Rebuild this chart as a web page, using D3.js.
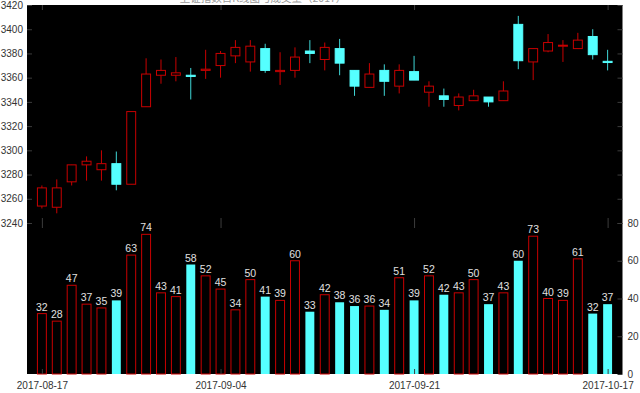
<!DOCTYPE html>
<html><head><meta charset="utf-8">
<script src="https://cdn.jsdelivr.net/npm/d3@7"></script>
<style>
html,body{margin:0;padding:0;background:#fff;}
svg{display:block;font-family:"Liberation Sans",Arial,Helvetica,sans-serif;}
</style></head>
<body><svg id="c" width="640" height="393"></svg>
<script>
const dates = ["2017-08-17","2017-08-18","2017-08-21","2017-08-22","2017-08-23","2017-08-24","2017-08-25","2017-08-28","2017-08-29","2017-08-30","2017-08-31","2017-09-01","2017-09-04","2017-09-05","2017-09-06","2017-09-07","2017-09-08","2017-09-11","2017-09-12","2017-09-13","2017-09-14","2017-09-15","2017-09-18","2017-09-19","2017-09-20","2017-09-21","2017-09-22","2017-09-25","2017-09-26","2017-09-27","2017-09-28","2017-09-29","2017-10-09","2017-10-10","2017-10-11","2017-10-12","2017-10-13","2017-10-16","2017-10-17"];
const openP  = [3254,3253,3274,3288,3284,3289,3272,3336,3362,3362,3362,3366,3370,3378,3373,3384,3365,3366,3382,3375,3384,3366,3352,3366,3353,3365,3348,3345,3337,3341,3344,3341,3404,3373,3382,3386,3384,3394,3373.5];
const highP  = [3271,3276,3288,3295,3300,3299,3332,3376,3375,3377,3368,3383,3382,3391,3391,3388,3381,3385,3391,3389,3392,3366,3372,3371,3371,3378,3357,3351,3347,3350,3344,3357,3411,3384,3396,3391,3397,3400,3383];
const lowP   = [3252,3248,3271,3275,3275,3267,3272,3336,3355,3357,3342,3359,3360,3372,3365,3364,3354,3360,3372,3366,3362,3345,3352,3345,3347,3358,3336,3336,3333,3341,3336,3341,3367,3358,3381,3373,3384,3375,3366];
const closeP = [3269,3269,3288,3291,3289,3272,3332,3363,3366,3364,3361,3367,3380,3385,3386,3366,3366,3377,3380,3385,3372,3353,3363,3357,3366,3358,3353,3342,3344,3345,3340,3349,3374,3384,3389,3386.8,3391,3379,3372.5];
const volume = [32,28,47,37,35,39,63,74,43,41,58,52,45,34,50,41,39,60,33,42,38,36,36,34,51,39,52,42,43,50,37,43,60,73,40,39,61,32,37];
const priceTicks = [3240,3260,3280,3300,3320,3340,3360,3380,3400,3420];
const volTicks = [0,20,40,60,80];
const dateTicks = ["2017-08-17","2017-09-04","2017-09-21","2017-10-17"];
const title = "上证指数日K线图与成交量（2017）";

const L = 27, R = 622.5, T = 5, M = 223, B = 374;
const upC = "#c80000", dnC = "#55ffff", dnW = "#3fd6d6", tickC = "#3c3c3c", txtC = "#333";

const svg = d3.select("#c");
const x = d3.scaleLinear().domain([0, dates.length + 1]).range([L, R]);
const yP = d3.scaleLinear().domain([3240, 3420]).range([M, T]);
const yV = d3.scaleLinear().domain([0, 80]).range([B, M]);
const step = x(1) - x(0);
const bw = step * 0.6;

// title (mostly cut off at top, as in the reference)
svg.append("text").attr("x", 263).attr("y", 1.5).attr("text-anchor", "middle")
  .attr("font-size", 10.5).attr("fill", "#9a9a9a")
  .attr("font-family", "'Noto Sans CJK SC',sans-serif").text(title);

svg.append("rect").attr("x", L).attr("y", T).attr("width", R - L).attr("height", B - T).attr("fill", "#000");

const data = dates.map((d, i) => ({d, i: i + 1, o: openP[i], h: highP[i], l: lowP[i], c: closeP[i], v: volume[i], up: closeP[i] >= openP[i]}));

// candles
const cg = svg.append("g");
cg.selectAll("line.w").data(data).join("line")
  .attr("x1", d => x(d.i)).attr("x2", d => x(d.i))
  .attr("y1", d => yP(d.h)).attr("y2", d => yP(d.l))
  .attr("stroke", d => d.up ? upC : dnW).attr("stroke-width", 1);
cg.selectAll("rect.b").data(data).join("rect")
  .attr("x", d => x(d.i) - bw / 2).attr("width", bw)
  .attr("y", d => yP(Math.max(d.o, d.c)))
  .attr("height", d => Math.max(1, Math.abs(yP(d.o) - yP(d.c))))
  .attr("fill", d => d.up ? "#000" : dnC)
  .attr("stroke", d => d.up ? upC : dnC).attr("stroke-width", 1);

// volume bars
const vg = svg.append("g");
vg.selectAll("rect").data(data).join("rect")
  .attr("x", d => x(d.i) - bw / 2).attr("width", bw)
  .attr("y", d => yV(d.v)).attr("height", d => yV(0) - yV(d.v))
  .attr("fill", d => d.up ? "#000" : dnC)
  .attr("stroke", d => d.up ? upC : "none").attr("stroke-width", 1);
vg.selectAll("text").data(data).join("text")
  .attr("x", d => x(d.i)).attr("y", d => yV(d.v) - 3)
  .attr("text-anchor", "middle").attr("font-size", 10.5).attr("fill", "#e0e0e0")
  .text(d => d.v);

// axes
function style(g) {
  g.select(".domain").remove();
  g.selectAll(".tick line").attr("stroke", tickC);
  g.selectAll(".tick text").attr("fill", txtC).attr("font-size", 10)
    .attr("font-family", "'Liberation Sans',Arial,sans-serif");
}
svg.append("g").attr("transform", `translate(${L},0)`)
  .call(d3.axisLeft(yP).tickValues(priceTicks).tickSize(-5).tickPadding(4).tickFormat(d3.format("d"))).call(style);
svg.append("g").attr("transform", `translate(${R},0)`)
  .call(d3.axisRight(yP).tickValues(priceTicks).tickSize(-5).tickFormat("")).call(style);
svg.append("g").attr("transform", `translate(${R},0)`)
  .call(d3.axisRight(yV).tickValues(volTicks).tickSize(-5).tickPadding(5).tickFormat(d3.format("d"))).call(style);

const dIdx = dateTicks.map(d => dates.indexOf(d) + 1);
svg.append("g").attr("transform", `translate(0,${B})`)
  .call(d3.axisBottom(x).tickValues(dIdx).tickSize(-5).tickPadding(7.5).tickFormat(i => dates[i - 1])).call(style);
[T, M].forEach(yy => {
  svg.append("g").attr("transform", `translate(0,${yy})`)
    .call(d3.axisTop(x).tickValues(dIdx).tickSize(-5).tickFormat("")).call(style);
});
svg.append("g").attr("transform", `translate(0,${M})`)
  .call(d3.axisBottom(x).tickValues(dIdx).tickSize(-5).tickFormat("")).call(style);
</script></body></html>
